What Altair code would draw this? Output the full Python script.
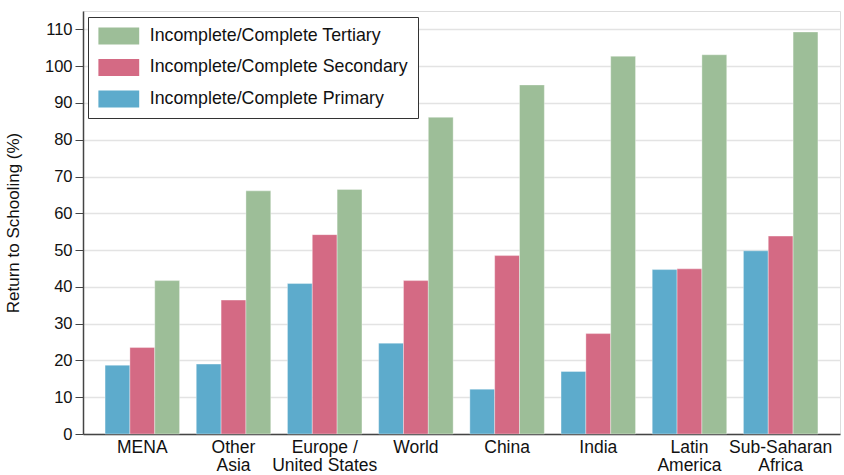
import altair as alt
import pandas as pd

regions = ["MENA", "Other\nAsia", "Europe /\nUnited States", "World", "China",
           "India", "Latin\nAmerica", "Sub-Saharan\nAfrica"]
primary = [18.7, 19.0, 40.9, 24.7, 12.2, 17.0, 44.7, 49.8]
secondary = [23.5, 36.4, 54.2, 41.7, 48.5, 27.3, 44.9, 53.8]
tertiary = [41.7, 66.1, 66.5, 86.1, 94.9, 102.7, 103.1, 109.3]

s_pri = "Incomplete/Complete Primary"
s_sec = "Incomplete/Complete Secondary"
s_ter = "Incomplete/Complete Tertiary"

rows = []
for i, r in enumerate(regions):
    rows.append({"region": r, "series": s_pri, "value": primary[i]})
    rows.append({"region": r, "series": s_sec, "value": secondary[i]})
    rows.append({"region": r, "series": s_ter, "value": tertiary[i]})
df = pd.DataFrame(rows)

FONT = "Liberation Sans"

chart = alt.Chart(df).mark_bar(
    stroke="white", strokeWidth=1, strokeOpacity=0.35
).encode(
    x=alt.X("region:N", sort=regions,
            scale=alt.Scale(paddingInner=0.183, paddingOuter=0.242),
            axis=alt.Axis(title=None, labelAngle=0, ticks=False, grid=False,
                          labelExpr="split(datum.label, '\\n')",
                          labelFontSize=17.5, labelLineHeight=18.5,
                          labelPadding=4, labelColor="#111",
                          domainColor="#444", domainWidth=1.5,
                          labelFont=FONT)),
    xOffset=alt.XOffset("series:N", sort=[s_pri, s_sec, s_ter]),
    y=alt.Y("value:Q",
            scale=alt.Scale(domain=[0, 115], nice=False),
            axis=alt.Axis(title="Return to Schooling (%)",
                          values=list(range(0, 111, 10)),
                          labelFontSize=16.5, labelColor="#111", labelFont=FONT,
                          labelPadding=3, tickSize=8, tickColor="#444",
                          domainColor="#444", domainWidth=1.5,
                          gridColor="#e3e3e3", gridWidth=1.5,
                          titleFontSize=17, titleFontWeight="normal",
                          titleFont=FONT, titleColor="#111",
                          titleX=-70, titleY=211.5, titleAlign="center",
                          titleBaseline="middle", titleAngle=270)),
    color=alt.Color("series:N",
                    scale=alt.Scale(domain=[s_ter, s_sec, s_pri],
                                    range=["#9dbe98", "#d46a84", "#5dabcc"]),
                    legend=alt.Legend(
                        title=None, orient="none", legendX=5, legendY=6,
                        direction="vertical",
                        strokeColor="#333", fillColor="white", padding=10,
                        symbolType="M-2.4,-1L2.4,-1L2.4,1L-2.4,1Z",
                        symbolSize=289, symbolOffset=11.9,
                        symbolStrokeWidth=0, symbolOpacity=1,
                        labelOffset=22, labelFontSize=17.8, labelFont=FONT,
                        labelColor="#111", rowPadding=12.5, labelLimit=400)),
).properties(
    width=757, height=423,
    autosize=alt.AutoSizeParams(type="none"),
    padding={"left": 83, "top": 11, "right": 4, "bottom": 41},
).configure_view(stroke=None).configure(background="white")

chart.save("out.html", embed_options={"renderer": "svg", "actions": False})
